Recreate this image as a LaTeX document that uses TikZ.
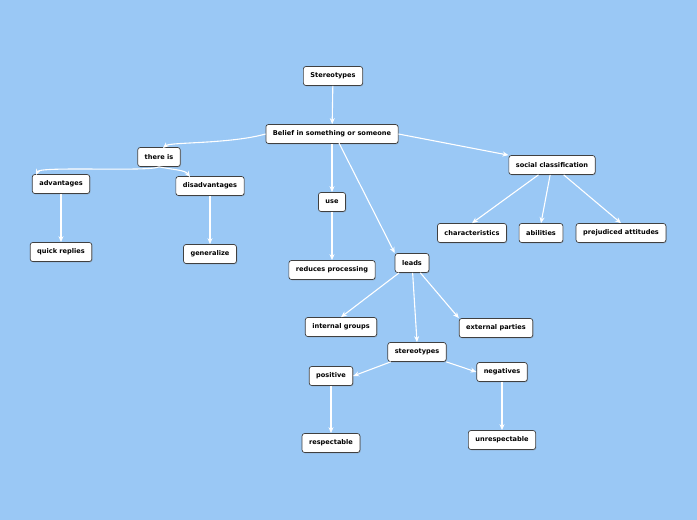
\documentclass[tikz,border=0pt]{standalone}
\usepackage{fontspec}
\setmainfont{DejaVu Sans}
\usetikzlibrary{arrows.meta,shadows}
\definecolor{bg}{HTML}{9AC8F5}
\tikzset{box/.style={draw=black!75,fill=white,rounded corners=2.5pt,line width=0.7pt,minimum height=19pt,inner xsep=7pt,font=\fontsize{6.6}{7.5}\selectfont\bfseries,drop shadow={shadow xshift=0.8pt,shadow yshift=-0.8pt,opacity=0.4}},
conn/.style={draw=white,line width=1.1pt,-{Stealth[length=6pt,width=5pt]}}}
\begin{document}
\begin{tikzpicture}[x=1pt,y=-1pt]
\fill[bg] (0,0) rectangle (697,520);
\node[box] (st) at (333,76) {Stereotypes};
\node[box] (be) at (332,134) {Belief in something or someone};
\node[box] (th) at (159,157) {there is};
\node[box] (ad) at (61,184) {advantages};
\node[box] (di) at (210,186) {disadvantages};
\node[box] (qr) at (61,252) {quick replies};
\node[box] (ge) at (210,254) {generalize};
\node[box] (us) at (332,202) {use};
\node[box] (rp) at (332,270) {reduces processing};
\node[box] (le) at (412,263) {leads};
\node[box] (sc) at (552,165) {social classification};
\node[box] (ch) at (472,233) {characteristics};
\node[box] (ab) at (541,233) {abilities};
\node[box] (pa) at (621,233) {prejudiced attitudes};
\node[box] (ig) at (341,327) {internal groups};
\node[box] (ep) at (496,328) {external parties};
\node[box] (s2) at (417,352) {stereotypes};
\node[box] (po) at (331,376) {positive};
\node[box] (ne) at (502,372) {negatives};
\node[box] (re) at (331,443) {respectable};
\node[box] (un) at (502,440) {unrespectable};
\draw[conn] (st) -- (be);
\draw[conn] (be.west) .. controls (230,144) and (170,142) .. (163,148);
\draw[conn] (th.south) .. controls (150,172) and (40,166) .. (36,175);
\draw[conn] (th.south) .. controls (175,170) and (185,170) .. (190,177);
\draw[conn] (ad) -- (qr);
\draw[conn] (di) -- (ge);
\draw[conn] (be) -- (us);
\draw[conn] (us) -- (rp);
\draw[conn] (339,143) -- (le.north west);
\draw[conn] (be.east) -- (sc.north west);
\draw[conn] (sc) -- (ch.north);
\draw[conn] (sc) -- (ab.north);
\draw[conn] (sc) -- (pa.north);
\draw[conn] (le) -- (ig.north);
\draw[conn] (le) -- (s2.north);
\draw[conn] (le) -- (ep.north west);
\draw[conn] (s2) -- (po.east);
\draw[conn] (s2) -- (ne.west);
\draw[conn] (po) -- (re);
\draw[conn] (ne) -- (un);
\end{tikzpicture}
\end{document}
